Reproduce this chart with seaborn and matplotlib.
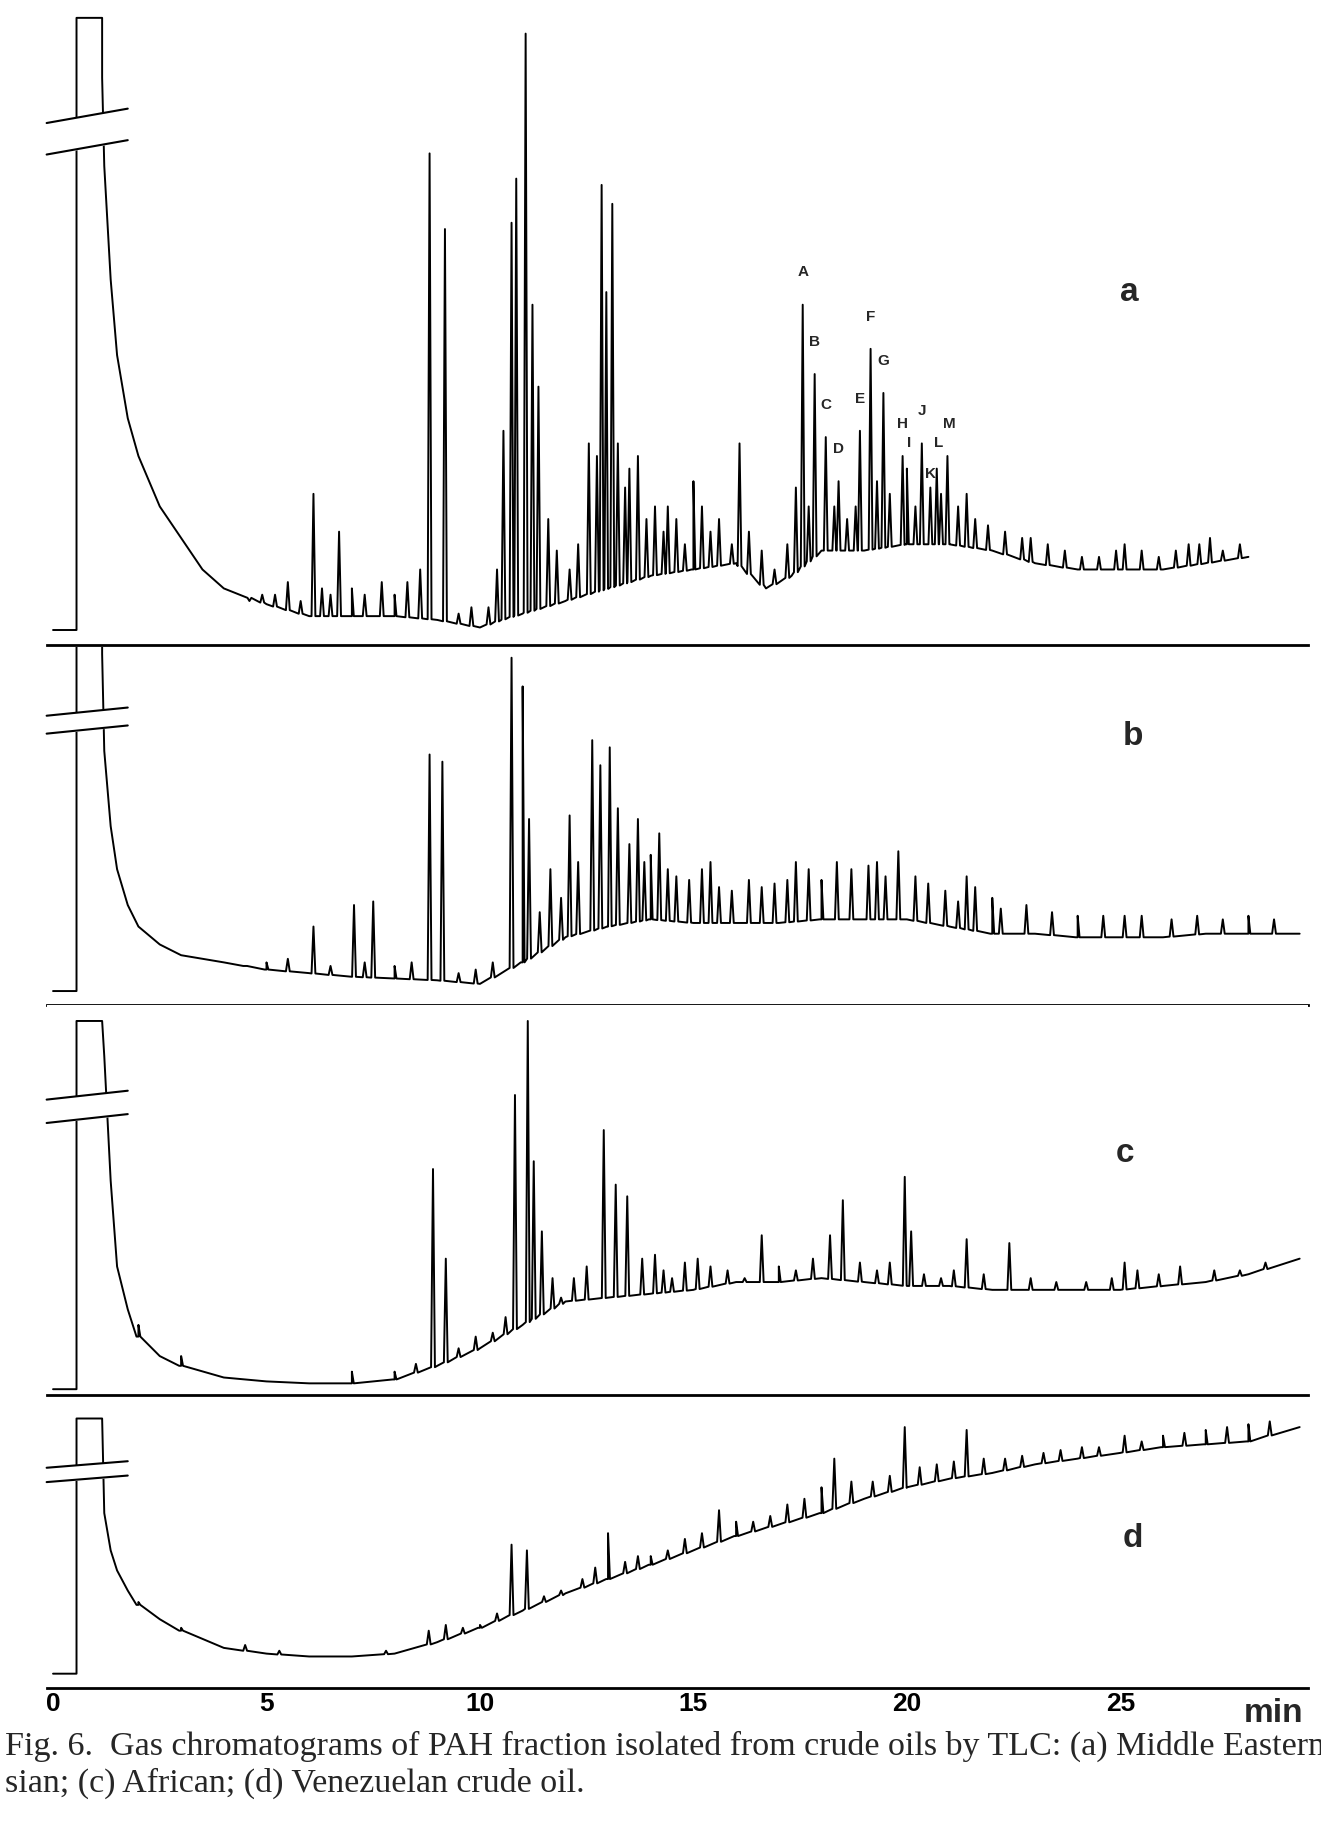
import numpy as np
import seaborn as sns
import matplotlib.pyplot as plt

sns.set_theme(style="white")
plt.rcParams['font.family'] = ['Liberation Sans', 'DejaVu Sans']

# ---- data (time in min, signal in % of panel height) ----
# baseline knots
a_base_t = [1.15, 1.2, 1.35, 1.5, 1.75, 2, 2.5, 3, 3.5, 4, 5, 6, 7, 8, 9, 10, 10.5, 11, 12, 13, 14, 15, 16, 16.7, 17.3, 18, 19, 20, 21, 22, 23, 24, 25, 26, 27, 28]
a_base_y = [90, 76, 58, 46, 36, 30, 22, 17, 12, 9, 6.5, 4.6, 4.6, 4.6, 4, 2.8, 4, 5, 7, 9, 11, 12, 13, 9, 11, 15, 15, 16, 16, 15, 13, 12, 12, 12, 13, 14]
b_base_t = [1.15, 1.2, 1.35, 1.5, 1.75, 2, 2.5, 3, 4, 5, 6, 7, 8, 9, 10, 11, 12, 13, 14, 15, 16, 17, 18, 19, 20, 21, 22, 23, 24, 25, 26, 27, 28, 29.2]
b_base_y = [98, 71, 50, 38, 28, 22, 17, 14, 12, 10, 9, 8, 7.5, 7, 6, 12, 19, 22, 24, 23, 23, 23, 24, 24, 24, 22, 20, 20, 19, 19, 19, 20, 20, 20]
c_base_t = [1.15, 1.2, 1.35, 1.5, 1.75, 2, 2.5, 3, 4, 5, 6, 7, 8, 9, 10, 11, 12, 13, 14, 15, 16, 17, 18, 19, 20, 21, 22, 23, 24, 25, 26, 27, 28, 29.2]
c_base_y = [96, 87, 55, 33, 22, 15, 10, 7.5, 4.5, 3.5, 3, 3, 4, 7.5, 12, 18, 24, 25, 26, 27, 29, 29, 30, 29, 28, 28, 27, 27, 27, 27, 28, 29, 31, 35]
d_base_t = [1.15, 1.2, 1.35, 1.5, 1.75, 2, 2.5, 3, 4, 5, 6, 7, 8, 9, 10, 11, 12, 13, 14, 15, 16, 17, 18, 19, 20, 21, 22, 23, 24, 25, 26, 27, 28, 29.2]
d_base_y = [94, 61, 48, 41, 34, 29, 24, 20, 14, 12, 11, 11, 12, 16, 21, 27, 33, 38, 43, 48, 53, 57, 61, 66, 70, 73, 75, 78, 80, 82, 84, 85, 86, 91]

# start stub, solvent box top
stub_y = {'a': 2.4, 'b': 4, 'c': 1.5, 'd': 5}
box_top = {'a': 99.5, 'b': 101, 'c': 96, 'd': 94}

# major peaks (time, top)
a_peaks = [(6.1, 24), (6.7, 18), (8.82, 78), (9.18, 66), (10.55, 34), (10.74, 67), (10.85, 74), (11.07, 97), (11.23, 54), (11.37, 41),
           (12.55, 32), (12.74, 30), (12.85, 73), (12.96, 56), (13.1, 70), (13.23, 32), (13.7, 30), (14.4, 22), (15.0, 26), (16.08, 32),
           (17.56, 54), (17.84, 43), (18.1, 33), (18.4, 26), (18.9, 34), (19.15, 47), (19.45, 40), (19.9, 30), (20.0, 28), (20.35, 32),
           (20.55, 25), (20.7, 28), (20.95, 30), (21.4, 24), (22.7, 17), (25.1, 16), (26.85, 16)]
b_peaks = [(6.1, 22), (7.05, 28), (7.5, 29), (8.82, 70), (9.12, 68), (10.74, 97), (11.0, 89), (11.15, 52), (11.65, 38), (12.1, 53),
           (12.63, 74), (12.82, 67), (13.04, 72), (13.23, 55), (13.7, 52), (14.2, 48), (15.4, 40), (17.4, 40), (18.36, 40), (19.1, 39),
           (19.8, 43), (21.2, 29), (22.2, 27), (25.1, 25)]
c_peaks = [(8.9, 58), (9.2, 35), (10.82, 77), (11.12, 96), (11.26, 60), (11.45, 42), (12.9, 68), (13.18, 54), (13.45, 51), (14.1, 36),
           (16.6, 41), (18.2, 41), (18.5, 50), (19.95, 56), (20.1, 42), (21.4, 40), (22.4, 39), (25.1, 34)]
d_peaks = [(10.74, 50), (11.1, 48), (13.0, 54), (15.6, 62), (18.3, 80), (19.95, 91), (21.4, 90), (25.1, 88)]

# minor peaks (time, top)
a_minor = [(4.6, 7), (4.9, 8), (5.2, 8), (5.5, 10), (5.8, 7), (6.3, 9), (6.5, 8), (7.0, 9), (7.3, 8), (7.7, 10), (8.0, 8), (8.3, 10), (8.6, 12),
           (9.5, 5), (9.8, 6), (10.2, 6), (10.4, 12), (11.6, 20), (11.8, 15), (12.1, 12), (12.3, 16), (13.4, 25), (13.5, 28), (13.9, 20),
           (14.1, 22), (14.3, 18), (14.6, 20), (14.8, 16), (15.2, 22), (15.4, 18), (15.6, 20), (15.9, 16), (16.3, 18), (16.6, 15), (16.9, 12),
           (17.2, 16), (17.4, 25), (17.7, 22), (18.3, 22), (18.6, 20), (18.8, 22), (19.3, 26), (19.6, 24), (20.2, 22), (20.8, 24), (21.2, 22),
           (21.6, 20), (21.9, 19), (22.3, 18), (22.9, 17), (23.3, 16), (23.7, 15), (24.1, 14), (24.5, 14), (24.9, 15), (25.5, 15), (25.9, 14),
           (26.3, 15), (26.6, 16), (27.1, 17), (27.4, 15), (27.8, 16)]
b_minor = [(4.5, 11), (5.0, 12), (5.5, 13), (6.5, 11), (7.3, 12), (8.0, 11), (8.4, 12), (9.5, 9), (9.9, 10), (10.3, 12), (11.4, 26), (11.9, 30),
           (12.3, 40), (13.5, 45), (13.85, 40), (14.0, 42), (14.4, 38), (14.6, 36), (14.9, 35), (15.2, 38), (15.6, 33), (15.9, 32), (16.3, 35),
           (16.6, 33), (16.9, 34), (17.2, 35), (17.7, 38), (18.0, 35), (18.7, 38), (19.3, 40), (19.5, 36), (20.2, 36), (20.5, 34), (20.9, 32),
           (21.4, 36), (21.6, 33), (22.0, 30), (22.8, 28), (23.4, 26), (24.0, 25), (24.6, 25), (25.5, 25), (26.2, 24), (26.8, 25), (27.4, 24),
           (28.0, 25), (28.6, 24)]
c_minor = [(2.0, 18), (3.0, 10), (7.0, 6), (8.0, 6), (8.5, 8), (9.5, 12), (9.9, 15), (10.3, 16), (10.6, 20), (11.7, 30), (11.9, 25), (12.2, 30),
           (12.5, 33), (13.8, 35), (14.3, 32), (14.5, 30), (14.8, 34), (15.1, 35), (15.4, 33), (15.8, 32), (16.2, 30), (17.0, 33), (17.4, 32),
           (17.8, 35), (18.9, 34), (19.3, 32), (19.6, 34), (20.4, 31), (20.8, 30), (21.1, 32), (21.8, 31), (22.9, 30), (23.5, 29), (24.2, 29),
           (24.8, 30), (25.4, 32), (25.9, 31), (26.4, 33), (27.2, 32), (27.8, 32), (28.4, 34)]
d_minor = [(2.0, 30), (3.0, 21), (4.5, 15), (5.3, 13), (7.8, 13), (8.8, 20), (9.2, 22), (9.6, 21), (10.0, 22), (10.4, 26), (11.5, 32), (11.9, 34),
           (12.4, 38), (12.7, 42), (13.4, 44), (13.7, 46), (14.0, 46), (14.4, 48), (14.8, 52), (15.2, 54), (16.0, 58), (16.4, 58), (16.8, 60),
           (17.2, 64), (17.6, 66), (18.0, 70), (18.7, 72), (19.2, 72), (19.6, 74), (20.3, 77), (20.7, 78), (21.1, 79), (21.8, 80), (22.3, 80),
           (22.7, 81), (23.2, 82), (23.6, 83), (24.1, 84), (24.5, 84), (25.5, 86), (26.0, 88), (26.5, 89), (27.0, 90), (27.5, 91), (28.0, 92),
           (28.5, 93)]

# peak letters in panel a (time of peak they mark)
letters = ['A', 'B', 'C', 'D', 'E', 'F', 'G', 'H', 'I', 'J', 'K', 'L', 'M']
letter_t = [17.56, 17.84, 18.1, 18.4, 18.9, 19.15, 19.45, 19.9, 20.05, 20.35, 20.55, 20.75, 21.0]
letter_y = [58, 47, 37, 30, 38, 51, 44, 34, 31, 36, 26, 31, 34]

panel_names = ['a', 'b', 'c', 'd']
panel_label_pos = {'a': (25.2, 56), 'b': (25.3, 75), 'c': (25.1, 62), 'd': (25.3, 52)}
break_y = {'a': 78, 'b': 76, 'c': 70, 'd': 72}

xticks = [0, 5, 10, 15, 20, 25]


def build_trace(name, base_t, base_y, peaks, minor):
    t = [0.0, 0.55, 0.55, 1.15]
    y = [stub_y[name], stub_y[name], box_top[name], box_top[name]]
    pts = list(zip(base_t, base_y))
    for pt, top in peaks + minor:
        foot = float(np.interp(pt, base_t, base_y))
        w = 0.045
        pts += [(pt - w, foot), (pt, top), (pt + w, foot)]
    pts.sort(key=lambda p: p[0])
    t += [p[0] for p in pts]
    y += [p[1] for p in pts]
    return t, y


fig = plt.figure(figsize=(13.21, 18.38), dpi=100)
left, width = 0.0353, 0.955
boxes = [(0.649, 0.343), (0.453, 0.195), (0.241, 0.212), (0.0816, 0.156)]
data = {'a': (a_base_t, a_base_y, a_peaks, a_minor), 'b': (b_base_t, b_base_y, b_peaks, b_minor),
        'c': (c_base_t, c_base_y, c_peaks, c_minor), 'd': (d_base_t, d_base_y, d_peaks, d_minor)}

for i, name in enumerate(panel_names):
    ax = fig.add_axes([left, boxes[i][0], width, boxes[i][1]])
    t, y = build_trace(name, *data[name])
    sns.lineplot(x=t, y=y, sort=False, estimator=None, color='black', lw=1.4, ax=ax)
    ax.set_xlim(-0.15, 29.4)
    ax.set_ylim(0, 100)
    for s in ['top', 'left', 'right']:
        ax.spines[s].set_visible(False)
    ax.spines['bottom'].set_color('black')
    ax.spines['bottom'].set_linewidth(2)
    ax.set_yticks([])
    # break marks on the solvent peak
    yb = break_y[name]
    xs = np.array([-0.15, 1.75])
    h = 5 if name != 'c' else 6
    ax.fill_between(xs, yb + xs * 1.2, yb + h + xs * 1.2, color='white', zorder=3, clip_on=False)
    ax.plot(xs, yb + xs * 1.2, color='black', lw=1.5, zorder=4, clip_on=False)
    ax.plot(xs, yb + h + xs * 1.2, color='black', lw=1.5, zorder=4, clip_on=False)
    lx, ly = panel_label_pos[name]
    ax.text(lx, ly, name, fontsize=24, fontweight='bold', ha='center', va='center')
    if name == 'a':
        for lt, lab, ly2 in zip(letter_t, letters, letter_y):
            ax.text(lt, ly2, lab, fontsize=11, fontweight='bold', ha='center', va='bottom')
    if name == 'd':
        ax.set_xticks(xticks)
        ax.set_xticklabels([str(v) for v in xticks], fontsize=19, fontweight='bold')
        ax.tick_params(axis='x', direction='in', length=10, width=1.5, pad=3, colors='black')
        ax.text(28.6, -9, 'min', fontsize=24, fontweight='bold', ha='center', va='center', clip_on=False)
    else:
        ax.set_xticks([])

fig.text(0.004, 0.050, 'Fig. 6.  Gas chromatograms of PAH fraction isolated from crude oils by TLC: (a) Middle Eastern; (b) Indone-',
         fontsize=24.5, family='Liberation Serif', va='center', ha='left')
fig.text(0.004, 0.030, 'sian; (c) African; (d) Venezuelan crude oil.',
         fontsize=24.5, family='Liberation Serif', va='center', ha='left')

fig.savefig('out.png', dpi=100, facecolor='white')
